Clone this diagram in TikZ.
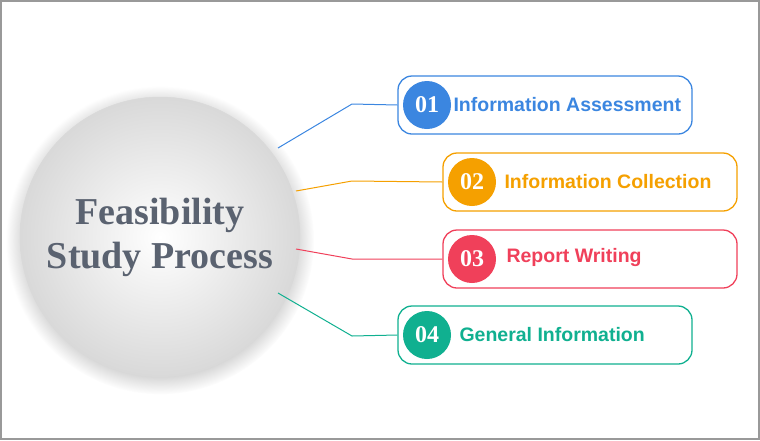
\documentclass[tikz,border=0pt]{standalone}
\usepackage{fontspec}
\setmainfont{Liberation Serif}
\setsansfont{Liberation Sans}
\usetikzlibrary{shadows,calc}
\definecolor{cb}{HTML}{3B86E0}
\definecolor{co}{HTML}{F5A000}
\definecolor{cr}{HTML}{F0405A}
\definecolor{ct}{HTML}{10B090}
\definecolor{ttl}{HTML}{5A6270}
\tikzset{
 pill/.style={draw=#1,line width=1.3pt,rounded corners=14pt,minimum width=294pt,minimum height=58pt,fill=white},
 num/.style={circle,fill=#1,minimum size=48pt,inner sep=0pt,text=white,font=\rmfamily\bfseries\fontsize{24}{24}\selectfont},
 lbl/.style={text=#1,font=\sffamily\bfseries\fontsize{19.5}{20}\selectfont,anchor=west},
 con/.style={draw=#1,line width=1pt}
}
\begin{document}
\begin{tikzpicture}[x=1pt,y=-1pt]
\useasboundingbox (0,0) rectangle (760,440);
\draw[draw=gray!80,line width=1.5pt] (1,1) rectangle (759,439);
\node[circle,minimum size=280pt,inner sep=0pt,inner color=white,outer color=gray!30,draw=gray!30,
 circular drop shadow={shadow xshift=0pt,shadow yshift=-3pt,opacity=.4}] (c) at (160,237) {};
\node[text=ttl,font=\bfseries\fontsize{38}{44}\selectfont,align=center] (t) at (c) {Feasibility\\Study Process};
\node[pill=cb] (p1) at (545,105) {};
\node[pill=co] (p2) at (590,182) {};
\node[pill=cr] (p3) at (590,259) {};
\node[pill=ct] (p4) at (545,335) {};
\node[num=cb] (n1) at (427,105) {01};
\node[num=co] (n2) at (472,182) {02};
\node[num=cr] (n3) at (472,259) {03};
\node[num=ct] (n4) at (427,335) {04};
\node[lbl=cb] (l1) at (450,105) {Information Assessment};
\node[lbl=co] (l2) at (501,182) {Information Collection};
\node[lbl=cr] (l3) at (503,257) {Report Writing};
\node[lbl=ct] (l4) at (456,335) {General Information};
\coordinate (k1) at (352,104);
\coordinate (k2) at (352,181);
\coordinate (k3) at (352,259);
\coordinate (k4) at (352,336);
\draw[con=cb] ($(c)+(118,-89)$) -- (k1) -- (p1.west);
\draw[con=co] ($(c)+(136,-46)$) -- (k2) -- (p2.west);
\draw[con=cr] ($(c)+(136,12)$) -- (k3) -- (p3.west);
\draw[con=ct] ($(c)+(118,56)$) -- (k4) -- (p4.west);
\end{tikzpicture}
\end{document}
